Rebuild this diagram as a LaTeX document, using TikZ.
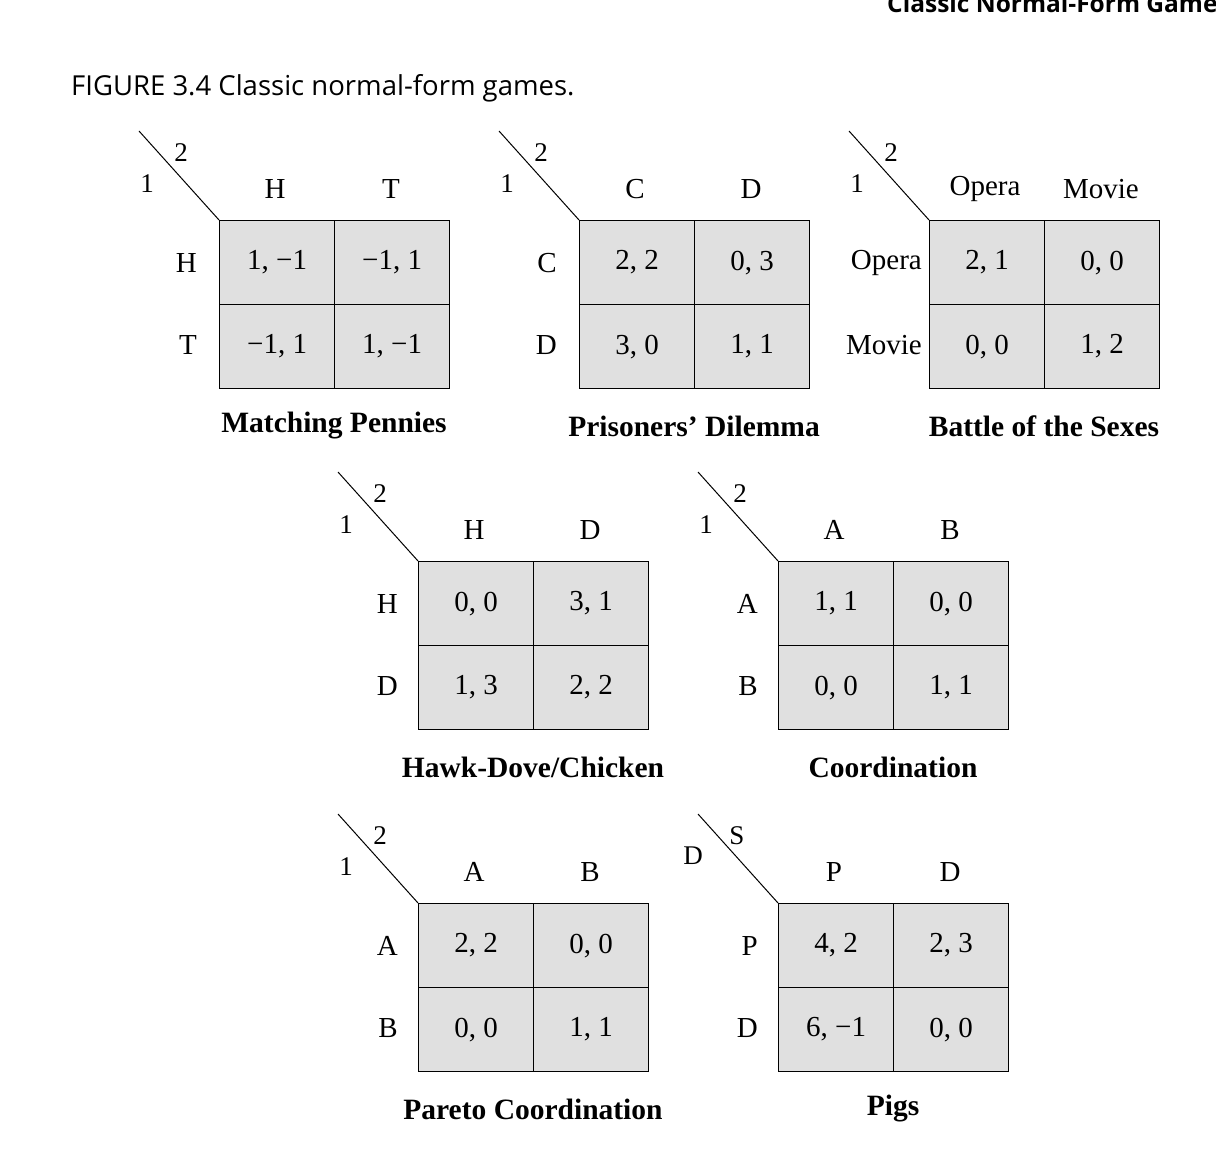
\documentclass[tikz,border=0pt]{standalone}
\usepackage{fontspec}
\setmainfont{Liberation Serif}
\newfontfamily\capfont{Open Sans}
\definecolor{cellgray}{HTML}{E0E0E0}
\tikzset{
  cell/.style={draw=black, line width=1.2pt, fill=cellgray, minimum width=115pt, minimum height=84pt, inner sep=0pt},
  lab/.style={font=\fontsize{29}{32}\selectfont, inner sep=0pt},
  pl/.style={font=\fontsize{27}{30}\selectfont, inner sep=0pt},
  ttl/.style={font=\fontsize{29.5}{32}\selectfont\bfseries, inner sep=0pt},
  diag/.style={line width=1pt}
}
\def\rowx{-22}
\newcommand\mygame[9]{%
\begin{scope}[shift={(#2,#3)}]
  \node[cell, anchor=north west] (#1a) at (0,0) {};
  \node[cell, anchor=north west] (#1b) at (115,0) {};
  \node[cell, anchor=north west] (#1c) at (0,84) {};
  \node[cell, anchor=north west] (#1d) at (115,84) {};
  \coordinate (#1o) at (-80,-89);
  \draw[diag] (#1o) -- (#1a.north west);
  \node[lab] (#1c1) at (56,-31) {#4};
  \node[lab] (#1c2) at (172,-31) {#5};
  \node[lab, anchor=east] (#1r1) at (\rowx,43) {#6};
  \node[lab, anchor=east] (#1r2) at (\rowx,125) {#7};
  \node[ttl] (#1t) at (115,206) {#8};
  #9
\end{scope}}
\newcommand\pay[5]{%
  \node[lab] at (#1a) {#2};
  \node[lab] at (#1b) {#3};
  \node[lab] at (#1c) {#4};
  \node[lab] at (#1d) {#5};}
\newcommand\pls[3]{\node[pl] (#1p1) at (-72,-36) {#2}; \node[pl] (#1p2) at (-38,-67) {#3};}
\begin{document}
\begin{tikzpicture}[x=1pt,y=-1pt]
\useasboundingbox (0,0) rectangle (1216,1174);
\begin{scope}
\clip (0,0) rectangle (1216,1174);
\node[anchor=base west, inner sep=0pt, font=\capfont\bfseries\fontsize{24.5}{26}\selectfont] (hdr) at (887,13) {Classic Normal-Form Game};
\end{scope}
\node[anchor=base west, inner sep=0pt, font=\capfont\fontsize{27.5}{30}\selectfont] (cap) at (71,96) {FIGURE 3.4 Classic normal-form games.};

\mygame{mp}{219}{220}{H}{T}{H}{T}{Matching Pennies}{\pls{mp}{1}{2}}
\pay{mp}{1, −1}{−1, 1}{−1, 1}{1, −1}
\mygame{pd}{579}{220}{C}{D}{C}{D}{Prisoners’ Dilemma}{\pls{pd}{1}{2}}
\pay{pd}{2, 2}{0, 3}{3, 0}{1, 1}
\def\rowx{-7}
\mygame{bs}{929}{220}{Opera}{Movie}{Opera}{Movie}{Battle of the Sexes}{\pls{bs}{1}{2}}
\pay{bs}{2, 1}{0, 0}{0, 0}{1, 2}
\def\rowx{-20}
\mygame{hd}{418}{561}{H}{D}{H}{D}{Hawk-Dove/Chicken}{\pls{hd}{1}{2}}
\pay{hd}{0, 0}{3, 1}{1, 3}{2, 2}
\mygame{co}{778}{561}{A}{B}{A}{B}{Coordination}{\pls{co}{1}{2}}
\pay{co}{1, 1}{0, 0}{0, 0}{1, 1}
\mygame{pc}{418}{903}{A}{B}{A}{B}{Pareto Coordination}{\pls{pc}{1}{2}}
\pay{pc}{2, 2}{0, 0}{0, 0}{1, 1}
\mygame{pg}{778}{903}{P}{D}{P}{D}{Pigs}{\node[pl] (pgp1) at (-85,-47) {D}; \node[pl] (pgp2) at (-41,-67) {S};}
\pay{pg}{4, 2}{2, 3}{6, −1}{0, 0}
\end{tikzpicture}
\end{document}
